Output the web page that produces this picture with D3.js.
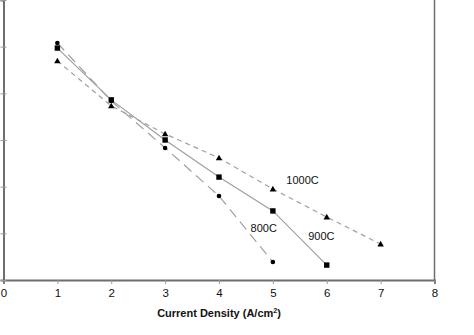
<!DOCTYPE html>
<html>
<head>
<meta charset="utf-8">
<script src="https://cdn.jsdelivr.net/npm/d3@7"></script>
<style>
  html, body { margin: 0; padding: 0; background: #fff; }
  svg { display: block; }
</style>
</head>
<body>
<svg id="chart" width="474" height="335"></svg>
<script>
// Cell voltage (V) against current density (A/cm2) at three temperatures
const currentDensity = [1, 2, 3, 4, 5, 6, 7];
const v800  = [1.016, 0.767, 0.566, 0.360, 0.077];
const v900  = [0.994, 0.772, 0.600, 0.441, 0.296, 0.064];
const v1000 = [0.939, 0.746, 0.626, 0.523, 0.390, 0.270, 0.154];
const xTicks = [0, 1, 2, 3, 4, 5, 6, 7, 8];
const yTicks = [0, 0.2, 0.4, 0.6, 0.8, 1.0, 1.2];
const seriesNames = ["800C", "900C", "1000C"];

const svg = d3.select("#chart");
const x = d3.scaleLinear().domain([0, 8]).range([3.5, 434.5]);
const y = d3.scaleLinear().domain([0, 1.2]).range([280, 0]);

const series = [
  { name: seriesNames[0], values: v800,  dash: "10,6", marker: "circle",
    label: [4.83, 0.222] },
  { name: seriesNames[1], values: v900,  dash: null,   marker: "square",
    label: [5.9, 0.189] },
  { name: seriesNames[2], values: v1000, dash: "5,4",  marker: "triangle",
    label: [5.55, 0.429] }
];

// axes frame
const axisColor = "#6e6e6e";
svg.append("line").attr("x1", x(8)).attr("x2", x(8)).attr("y1", 0).attr("y2", y(0))
  .attr("stroke", axisColor).attr("stroke-width", 1.5);

const xAxis = svg.append("g").attr("transform", `translate(0,${y(0)})`)
  .call(d3.axisBottom(x).tickValues(xTicks).tickSize(4).tickPadding(5).tickFormat(d3.format("d")));
xAxis.select(".domain").attr("stroke", axisColor).attr("stroke-width", 2);
xAxis.selectAll(".tick line").attr("stroke", "#999");
xAxis.selectAll(".tick text").attr("font-family", "Liberation Sans, Arial, sans-serif")
  .attr("font-size", 11.5).attr("fill", "#111");

const yAxis = svg.append("g").attr("transform", `translate(${x(0)},0)`)
  .call(d3.axisLeft(y).tickValues(yTicks).tickSize(3).tickFormat(""));
yAxis.select(".domain").attr("stroke", axisColor).attr("stroke-width", 2);
yAxis.selectAll(".tick line").attr("stroke", "#999").attr("x2", -3).attr("x1", 3);

// axis title
const title = svg.append("text").attr("x", x(4)).attr("y", 317)
  .attr("text-anchor", "middle")
  .attr("font-family", "Liberation Sans, Arial, sans-serif")
  .attr("font-size", 11).attr("font-weight", "bold").attr("fill", "#111");
title.append("tspan").text("Current Density (A/cm");
title.append("tspan").attr("font-size", 7).attr("dy", -4).text("2");
title.append("tspan").attr("dy", 4).text(")");

// series lines
const line = d3.line().x((d, i) => x(currentDensity[i])).y(d => y(d));
series.forEach(s => {
  svg.append("path").datum(s.values).attr("d", line)
    .attr("fill", "none").attr("stroke", "#a0a0a0").attr("stroke-width", 1.2)
    .attr("stroke-dasharray", s.dash);
});

// markers
series.forEach(s => {
  const g = svg.append("g").attr("fill", "#000");
  s.values.forEach((v, i) => {
    const cx = x(currentDensity[i]), cy = y(v);
    if (s.marker === "circle") {
      g.append("circle").attr("cx", cx).attr("cy", cy).attr("r", 2.3);
    } else if (s.marker === "square") {
      g.append("rect").attr("x", cx - 2.7).attr("y", cy - 2.7).attr("width", 5.4).attr("height", 5.4);
    } else {
      g.append("path").attr("d", `M${cx},${cy - 3.2}L${cx + 3.2},${cy + 2.4}L${cx - 3.2},${cy + 2.4}Z`);
    }
  });
});

// series labels
series.forEach(s => {
  svg.append("text").attr("x", x(s.label[0])).attr("y", y(s.label[1]))
    .attr("text-anchor", "middle").attr("dy", "0.35em")
    .attr("font-family", "Liberation Sans, Arial, sans-serif")
    .attr("font-size", 11).attr("fill", "#111").text(s.name);
});
</script>
</body>
</html>
